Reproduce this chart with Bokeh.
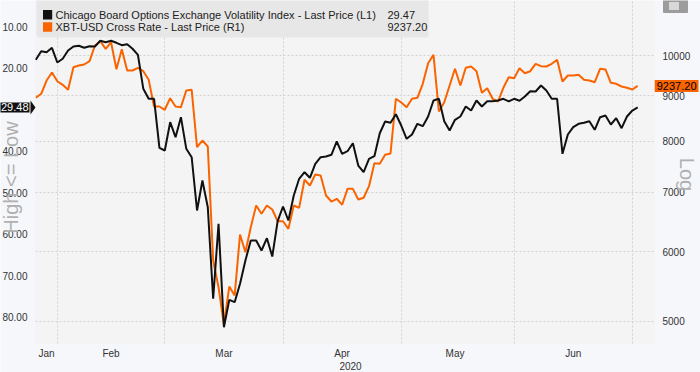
import math
from bokeh.plotting import figure
from bokeh.models import (Range1d, LinearAxis, LogAxis, LogScale, FixedTicker,
                          NumeralTickFormatter, Grid, Label, BoxAnnotation, PolyAnnotation)
from bokeh.embed import file_html
from bokeh.resources import INLINE

# ---------------- data ----------------
vix = [18.01, 15.94, 16.18, 15.12, 18.66, 17.77, 15.77, 14.81, 14.64, 15.12,
       14.74, 14.81, 13.44, 13.78, 13.44, 13.92, 14.50, 14.26, 15.36, 16.81,
       24.99, 27.39, 27.39, 39.18, 39.83, 33.02, 36.63, 31.82, 39.42, 41.44,
       54.26, 47.05, 53.47, 75.50, 57.46, 82.34, 75.75, 76.32, 71.90, 66.29,
       61.48, 61.48, 63.89, 60.93, 65.33, 56.84, 53.30, 56.67, 50.65, 46.64,
       45.05, 46.40, 43.03, 41.44, 41.27, 40.86, 37.66, 40.62, 40.00, 38.07,
       43.44, 45.05, 41.83, 41.20, 35.67, 32.85, 33.17, 31.10, 33.82, 37.02,
       35.98, 33.41, 33.98, 31.65, 27.80, 27.39, 32.78, 35.02, 32.44, 31.65,
       29.24, 30.21, 27.80, 29.24, 27.97, 27.97, 27.80, 27.39, 27.99, 27.39,
       27.87, 26.84, 25.56, 25.64, 24.19, 25.40, 27.39, 27.39, 40.62, 35.98,
       34.22, 33.41, 33.17, 32.78, 34.85, 31.82, 31.41, 33.57, 32.06, 34.46,
       31.65, 30.21, 29.47]

xbt = [8956, 9050, 9369, 9567, 9352, 9265, 9145, 9700, 9743, 9768,
       9853, 10264, 10380, 10176, 10353, 9649, 10166, 9617, 9617, 9685,
       9599, 9386, 8756, 8756, 8681, 8947, 8756, 8740, 9128, 9145,
       7875, 8013, 7889, 5861, 5467, 4961, 5477, 5350, 6272, 5989,
       6393, 6765, 6620, 6765, 6694, 6493, 6493, 6366, 6765, 6724,
       7233, 7127, 7334, 7315, 6943, 6835, 6884, 6777, 7065, 7065,
       6871, 6902, 7114, 7553, 7541, 7720, 7746, 8933, 8847, 8740,
       8933, 8956, 9289, 9801, 10018, 8642, 8854, 9248, 9659, 9248,
       9685, 9717, 9599, 9074, 9183, 8933, 8870, 9193, 9450, 9426,
       9674, 9549, 9599, 9786, 9725, 9717, 9786, 9889, 9345, 9492,
       9492, 9510, 9386, 9369, 9328, 9659, 9642, 9313, 9289, 9224,
       9193, 9152, 9237.2]

day_index = list(range(len(vix)))

month_names = ["Jan", "Feb", "Mar", "Apr", "May", "Jun"]
month_starts = [4, 24, 46, 68, 89, 111]          # first trading day of Feb ... Jul
year_label = "2020"

vix_ticks = [10, 20, 40, 50, 60, 70, 80]
xbt_ticks = [5000, 6000, 7000, 8000, 9000, 10000]

series_names = ["Chicago Board Options Exchange Volatility Index - Last Price (L1)",
                "XBT-USD Cross Rate - Last Price (R1)"]
series_last = ["29.47", "9237.20"]
vix_tag = 29.48
xbt_tag = 9237.20

# ---------------- layout (pixel geometry of the page) ----------------
W, H = 700, 372
PL, PR, PT, PB = 35, 654, 0, 343          # plot area inside the page
PX_PER_DAY = 5.374                         # x scale
X_AT_PL = -0.06                            # x value at the plot's left edge
VIX_PX_PER_UNIT = 4.157                    # left axis scale (inverted)
VIX_REF_VAL, VIX_REF_PX = 10.0, 26.0
XBT_PX_PER_DEC = 883.6                     # right axis scale (log)
XBT_REF_VAL, XBT_REF_PX = 10000.0, 55.0

FONT = "Liberation Sans"
BLACK = "#111111"
ORANGE = "#fa6400"
NOTE = "#b0b0b0"
TXT = "#333333"


def xpx(px):
    return X_AT_PL + (px - PL) / PX_PER_DAY


def vpx(py):
    return VIX_REF_VAL + (py - VIX_REF_PX) / VIX_PX_PER_UNIT


def bpx(py):
    return XBT_REF_VAL * 10 ** (-(py - XBT_REF_PX) / XBT_PX_PER_DEC)


p = figure(width=W, height=H, output_backend="svg", toolbar_location=None,
           x_range=Range1d(xpx(0), xpx(W)), y_range=Range1d(vpx(H), vpx(0)),
           x_axis_type=None, y_axis_type=None,
           min_border=0, min_border_left=0, min_border_right=0,
           min_border_top=0, min_border_bottom=0,
           background_fill_color="#f6f7fb", border_fill_color="#f6f7fb",
           outline_line_color=None)
p.extra_y_ranges = {"xbt": Range1d(bpx(H), bpx(0))}
p.extra_y_scales = {"xbt": LogScale()}

# plot-area background
p.add_layout(BoxAnnotation(left=xpx(PL), right=xpx(PR), top=vpx(PT), bottom=vpx(PB),
                           fill_color="#f4f4f4", fill_alpha=1, line_color=None,
                           level="underlay"))

# axes (pinned to the plot-area edges)
label_pos = [(a + b) // 2 for a, b in zip([0] + month_starts[:-1], month_starts)]
xaxis = LinearAxis(ticker=FixedTicker(ticks=label_pos),
                   major_label_overrides={t: n for t, n in zip(label_pos, month_names)},
                   axis_label=year_label, fixed_location=vpx(PB))
yleft = LinearAxis(ticker=FixedTicker(ticks=vix_ticks),
                   formatter=NumeralTickFormatter(format="0.00"), fixed_location=xpx(PL))
yright = LogAxis(y_range_name="xbt", ticker=FixedTicker(ticks=xbt_ticks),
                 formatter=NumeralTickFormatter(format="0"), fixed_location=xpx(PR))
for ax in (xaxis, yleft, yright):
    ax.axis_line_color = None
    ax.major_tick_line_color = None
    ax.minor_tick_line_color = None
    ax.major_tick_out = 0
    ax.major_tick_in = 0
    ax.minor_tick_out = 0
    ax.minor_tick_in = 0
    ax.axis_label_standoff = 0
    ax.major_label_text_font = FONT
    ax.major_label_text_font_size = "10px"
    ax.major_label_text_color = TXT
xaxis.major_label_standoff = 4
xaxis.axis_label_text_font = FONT
xaxis.axis_label_text_font_size = "10px"
xaxis.axis_label_text_font_style = "normal"
xaxis.axis_label_text_color = TXT
yleft.major_label_standoff = 8
yright.major_label_standoff = 8
p.add_layout(xaxis, "below")
p.add_layout(yleft, "left")
p.add_layout(yright, "right")

# grids limited to the plot area
p.add_layout(Grid(dimension=0, ticker=FixedTicker(ticks=month_starts),
                  cross_bounds=(vpx(PB), vpx(PT)),
                  grid_line_color="#d2d2d2", grid_line_dash="2 2", grid_line_width=1))
p.add_layout(Grid(dimension=1, y_range_name="xbt", ticker=FixedTicker(ticks=xbt_ticks),
                  cross_bounds=(xpx(PL), xpx(PR)),
                  grid_line_color="#d2d2d2", grid_line_dash="2 2", grid_line_width=1))

# series
p.line(day_index, xbt, y_range_name="xbt", line_color=ORANGE, line_width=2)
p.line(day_index, vix, line_color=BLACK, line_width=2)

# legend box
p.add_layout(BoxAnnotation(left=xpx(36), right=xpx(428), top=vpx(-4), bottom=vpx(37),
                           fill_color="#e7e7e7", fill_alpha=1, line_color=None,
                           border_radius=3, level="overlay"))
for i, (name, last, col) in enumerate(zip(series_names, series_last, [BLACK, ORANGE])):
    cy = 14.3 + i * 12.2
    p.add_layout(BoxAnnotation(left=xpx(42.5), right=xpx(51.7), top=vpx(cy - 4.8),
                               bottom=vpx(cy + 4.8), fill_color=col, fill_alpha=1,
                               line_color=None, level="overlay"))
    p.add_layout(Label(x=xpx(55), y=vpx(cy), text=name, text_baseline="middle",
                       text_font=FONT, text_font_size="11px", text_color="#222222",
                       level="overlay"))
    p.add_layout(Label(x=xpx(387), y=vpx(cy), text=last, text_baseline="middle",
                       text_font=FONT, text_font_size="11px", text_color="#222222",
                       level="overlay"))

# value tags
p.add_layout(Label(x=xpx(29), y=vix_tag, text=f"{vix_tag:.2f}",
                   text_align="right", text_baseline="middle", text_font=FONT,
                   text_font_size="11px", text_color="white",
                   background_fill_color=BLACK, padding=1, level="overlay"))
dv = 7 / VIX_PX_PER_UNIT
p.add_layout(PolyAnnotation(xs=[xpx(30), xpx(35), xpx(30)],
                            ys=[vix_tag - dv, vix_tag, vix_tag + dv],
                            fill_color=BLACK, fill_alpha=1, line_color=None,
                            level="overlay"))

p.add_layout(Label(x=xpx(698), y=xbt_tag, y_range_name="xbt",
                   text=f"{xbt_tag:.2f}", text_align="right", text_baseline="middle",
                   text_font=FONT, text_font_size="11px", text_color="black",
                   background_fill_color=ORANGE, padding=2, level="overlay"))
f = 10 ** (8.5 / XBT_PX_PER_DEC)
p.add_layout(PolyAnnotation(xs=[xpx(657), xpx(652), xpx(657)],
                            ys=[xbt_tag * f, xbt_tag, xbt_tag / f],
                            y_range_name="xbt", fill_color=ORANGE, fill_alpha=1,
                            line_color=None, level="overlay"))

# axis direction notes
p.add_layout(Label(x=xpx(10), y=vpx(177), text="High <= Low",
                   angle=math.pi / 2, text_align="center", text_baseline="middle",
                   text_font=FONT, text_font_size="20px", text_color=NOTE))
p.add_layout(Label(x=xpx(686), y=vpx(174), text="Log",
                   angle=-math.pi / 2, text_align="center", text_baseline="middle",
                   text_font=FONT, text_font_size="20px", text_color=NOTE))

# small chart-type button at the top right
p.add_layout(BoxAnnotation(left=xpx(663), right=xpx(687), top=vpx(-2), bottom=vpx(12),
                           fill_color="#9c9c9c", fill_alpha=1, line_color="#333333",
                           line_width=1, level="overlay"))
p.add_layout(BoxAnnotation(left=xpx(668), right=xpx(679), top=vpx(1), bottom=vpx(10),
                           fill_color="#d8d8d8", fill_alpha=1, line_color="#555555",
                           line_width=1, level="overlay"))

open("out.html", "w").write(file_html(p, INLINE))
